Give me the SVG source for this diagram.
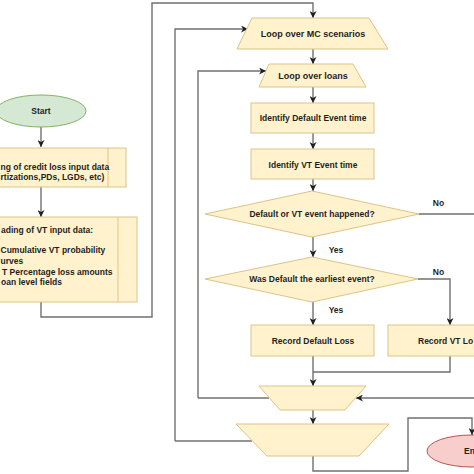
<svg xmlns="http://www.w3.org/2000/svg" width="474" height="474" viewBox="0 0 474 474">
<defs>
<marker id="arr" viewBox="0 0 10 10" refX="10" refY="5" markerWidth="7" markerHeight="7" markerUnits="userSpaceOnUse" orient="auto">
<path d="M0,0 L10,5 L0,10 L3,5 z" fill="#1f1f1f"/>
</marker>
<style>
.box{fill:#fff2cc;stroke:#dcc487;stroke-width:1}
.t{font-family:"Liberation Sans",Arial,sans-serif;font-weight:bold;font-size:8.5px;fill:#1f1f1f;text-anchor:middle}
.tl{font-family:"Liberation Sans",Arial,sans-serif;font-weight:bold;font-size:8.5px;fill:#1f1f1f}
.big{font-size:9px}
.c{fill:none;stroke:#707070;stroke-width:1.4}
.ca{fill:none;stroke:#707070;stroke-width:1.4;marker-end:url(#arr)}
</style>
</defs>
<rect width="474" height="474" fill="#ffffff"/>
<g id="connectors">
<path class="ca" d="M41,127 V147"/>
<path class="ca" d="M41,187 V217"/>
<path class="ca" d="M41,302 V317 H152 V3 H313 V18"/>
<path class="ca" d="M313,49 V64"/>
<path class="ca" d="M175,441 V29 H248"/>
<path class="ca" d="M198,398 V71 H266"/>
<path class="ca" d="M313,87 V103"/>
<path class="ca" d="M313,133 V149"/>
<path class="ca" d="M313,179 V191"/>
<path class="ca" d="M313,237 V257"/>
<path class="ca" d="M313,302 V325"/>
<path class="ca" d="M419,214 H480 V398 H356"/>
<path class="ca" d="M418,279 H450 V325"/>
<path class="ca" d="M313,356 V386"/>
<path class="c" d="M450,356 V372 H313"/>
<path class="c" d="M269,398 H198"/>
<path class="ca" d="M313,410 V424"/>
<path class="c" d="M252,441 H175"/>
<path class="ca" d="M313,456 V471 H408 V418 H472 V435"/>
<text class="t" x="438.5" y="206">No</text>
<text class="t" x="336" y="253">Yes</text>
<text class="t" x="438.5" y="275">No</text>
<text class="t" x="336" y="313">Yes</text>
</g>
<g id="start">
<ellipse cx="41" cy="111" rx="45" ry="16" fill="#d5e8d4" stroke="#82b366" stroke-width="1"/>
<text class="t" x="41" y="114">Start</text>
</g>
<g id="credit-input">
<rect class="box" x="-40" y="148" width="166" height="39"/>
<path d="M108,148 V187" stroke="#dcc487" stroke-width="1"/>
<text class="tl" x="0.5" y="170" font-size="8">ng of credit loss input data</text>
<text class="tl" x="0.5" y="180">rtizations,PDs, LGDs, etc)</text>
</g>
<g id="vt-input">
<rect class="box" x="-40" y="217" width="177" height="85"/>
<path d="M118,217 V302" stroke="#dcc487" stroke-width="1"/>
<text class="tl" x="1" y="233">ading of VT input data:</text>
<text class="tl" x="0.5" y="253">Cumulative VT probability</text>
<text class="tl" x="0.5" y="264">urves</text>
<text class="tl" x="2" y="275">T Percentage loss amounts</text>
<text class="tl" x="1" y="285">oan level fields</text>
</g>
<g id="loop-mc">
<polygon class="box" points="252,18 369,18 388,49 237,49"/>
<text class="t big" x="313" y="37">Loop over MC scenarios</text>
</g>
<g id="loop-loans">
<polygon class="box" points="269,64 353,64 366,87 259,87"/>
<text class="t big" x="313" y="79">Loop over loans</text>
</g>
<g id="identify-default">
<rect class="box" x="251" y="103" width="123" height="30"/>
<text class="t" x="313" y="121">Identify Default Event time</text>
</g>
<g id="identify-vt">
<rect class="box" x="251" y="149" width="123" height="30"/>
<text class="t" x="313" y="168">Identify VT Event time</text>
</g>
<g id="decision-1">
<polygon class="box" points="312,191 419,214 312,237 205,214"/>
<text class="t" x="312" y="217">Default or VT event happened?</text>
</g>
<g id="decision-2">
<polygon class="box" points="312,257 418,279 312,302 205,279"/>
<text class="t" x="312" y="282">Was Default the earliest event?</text>
</g>
<g id="record-default">
<rect class="box" x="251" y="325" width="123" height="31"/>
<text class="t" x="313" y="344">Record Default Loss</text>
</g>
<g id="record-vt">
<rect class="box" x="388" y="325" width="123" height="31"/>
<text class="tl" x="418" y="344">Record VT Lo</text>
</g>
<g id="end-loans">
<polygon class="box" points="259,386 366,386 345,410 280,410"/>
</g>
<g id="end-mc">
<polygon class="box" points="236,424 389,424 359,456 267,456"/>
</g>
<g id="end">
<ellipse cx="472" cy="451" rx="45" ry="16" fill="#f8cecc" stroke="#b85450" stroke-width="1"/>
<text class="tl" x="464" y="454">En</text>
</g>
</svg>
